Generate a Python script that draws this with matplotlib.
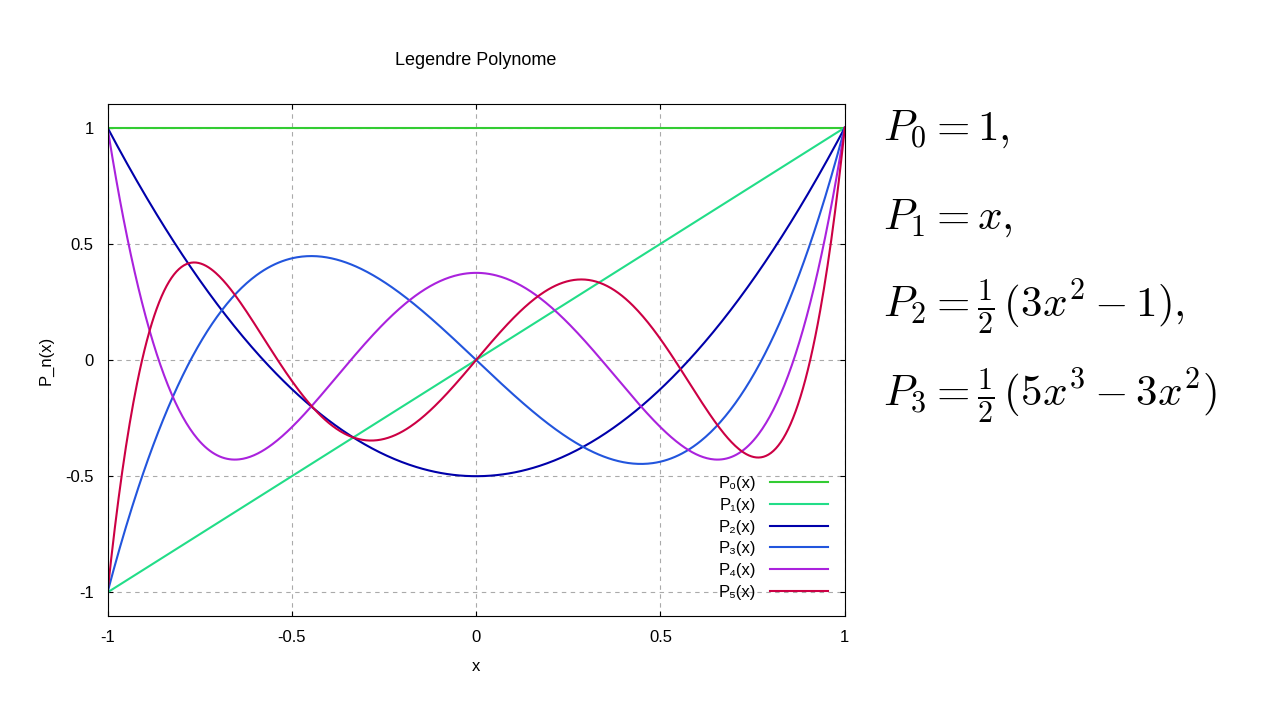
import matplotlib
matplotlib.use("Agg")
import matplotlib.pyplot as plt
import numpy as np
from numpy.polynomial import polynomial as P

# Legendre coefficients (ascending powers)
coeffs = [
    [1],
    [0, 1],
    [-0.5, 0, 1.5],
    [0, -1.5, 0, 2.5],
    [0.375, 0, -3.75, 0, 4.375],
    [0, 1.875, 0, -8.75, 0, 7.875],
]
labels = ["P₀(x)", "P₁(x)", "P₂(x)", "P₃(x)", "P₄(x)", "P₅(x)"]
colors = ["#33cc33", "#22dd88", "#0000aa", "#2255dd", "#aa22dd", "#cc0044"]
xticks = [-1, -0.5, 0, 0.5, 1]
xticklabels = ["-1", "-0.5", "0", "0.5", "1"]

plt.rcParams["font.family"] = ["Liberation Sans", "DejaVu Sans"]
fig = plt.figure(figsize=(12.8, 7.2), dpi=100)
ax = fig.add_axes([0.084, 0.144, 0.576, 0.712])

x = np.linspace(-1, 1, 600)
for c, lab, col in zip(coeffs, labels, colors):
    ax.plot(x, P.polyval(x, c), color=col, lw=1.5, label=lab)

ax.set_xlim(-1, 1)
ax.set_ylim(-1.103, 1.103)
ax.set_xticks(xticks)
ax.set_xticklabels(xticklabels)
ax.set_yticks(xticks)
ax.set_yticklabels(xticklabels)
ax.tick_params(direction="in", top=True, right=True, labelsize=12, pad=10)
ax.grid(True, ls=(0, (4, 4)), color="#aaaaaa", lw=0.8)
ax.set_xlabel("x", fontsize=12, labelpad=10)
ax.set_ylabel("P_n(x)", fontsize=12, labelpad=8)
ax.set_title("Legendre Polynome", fontsize=13, pad=28)
ax.title.set_position((0.5, 1.0))
ax.legend(loc="lower right", frameon=False, markerfirst=False, fontsize=12,
          handlelength=3.5, labelspacing=0.4, borderaxespad=0.6)

eqs = [r"$P_0 = 1,$", r"$P_1 = x,$",
       r"$P_2 = \frac{1}{2}\,(3x^2 - 1),$",
       r"$P_3 = \frac{1}{2}\,(5x^3 - 3x^2)$"]
for i, e in enumerate(eqs):
    fig.text(0.69, 0.82 - i * 0.123, e, fontsize=31, va="center",
             math_fontfamily="cm")

fig.savefig("out.png", dpi=100)
